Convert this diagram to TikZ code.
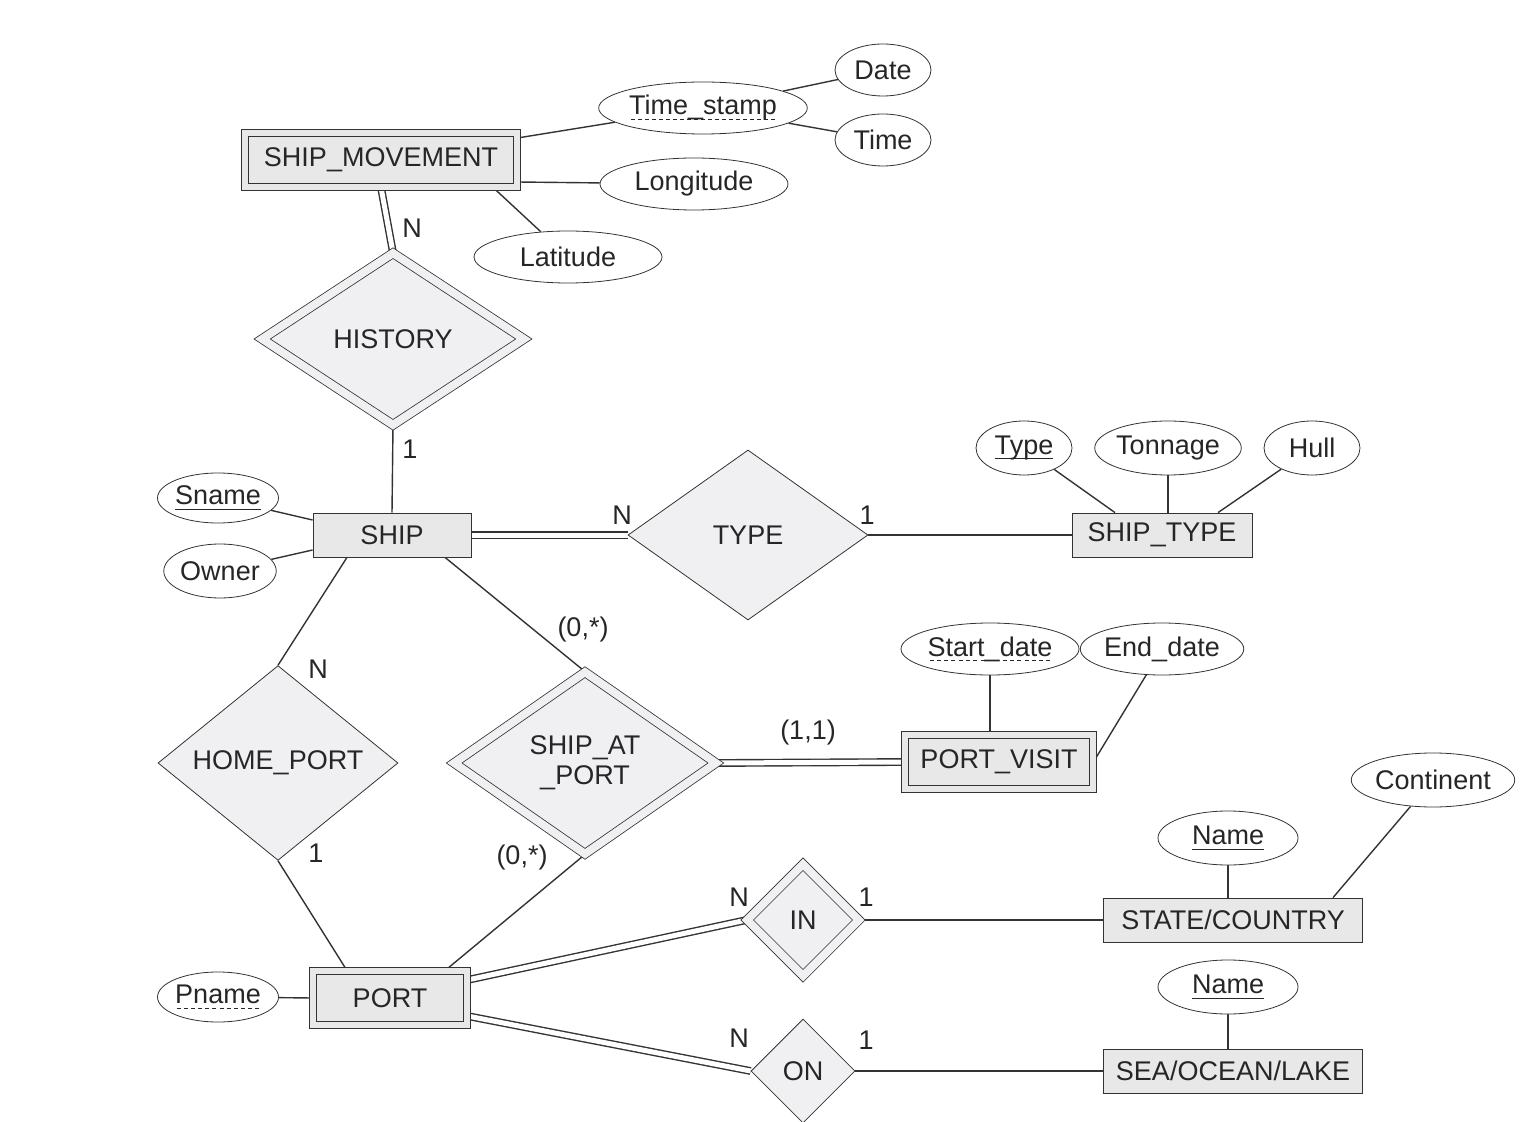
\documentclass[tikz,border=0pt]{standalone}
\usepackage{fontspec}
\setmainfont{Liberation Sans}
\usetikzlibrary{shapes.geometric,backgrounds}
\newcommand\myul[1]{\setbox0\hbox{#1}\rlap{\raisebox{-2.5pt}{\rule{\wd0}{0.5pt}}}\box0}
\newcommand\mydul[1]{\setbox0\hbox{#1}\rlap{\raisebox{-2.5pt}{\hbox to \wd0{\xleaders\hbox to 3.5pt{\hss\rule{2pt}{0.5pt}\hss}\hfill}}}\box0}
\definecolor{ln}{HTML}{333333}
\definecolor{ef}{HTML}{E8E8E8}
\definecolor{rf}{HTML}{F0F0F2}
\begin{document}
\begin{tikzpicture}[x=0.5pt,y=-0.5pt,font=\fontsize{13.5}{15}\selectfont,
  every node/.style={text=black!85},
  ent/.style={draw=ln,fill=ef,minimum height=22pt,inner sep=0pt},
  went/.style={ent,double=ef,double distance=3pt,minimum height=27pt},
  rel/.style={diamond,draw=ln,fill=rf,inner sep=0pt},
  wrel/.style={rel,double=rf,double distance=4pt},
  att/.style={ellipse,draw=ln,fill=white,inner sep=0pt,minimum height=26pt},
  e/.style={draw=ln,line width=0.7pt},
  de/.style={draw=ln,line width=0.7pt,double=white,double distance=2.5pt},
  lb/.style={inner sep=1pt}]
\useasboundingbox (0,0) rectangle (1530,1122);
% entities
\node[went,minimum width=136pt] (SM) at (381,160) {SHIP\_MOVEMENT};
\node[ent,minimum width=79pt] (SHIP) at (392,535) {SHIP};
\node[ent,minimum width=90pt] (ST) at (1162,535) {SHIP\_TYPE};
\node[went,minimum width=94pt] (PV) at (999,762) {PORT\_VISIT};
\node[ent,minimum width=129.5pt] (SC) at (1233,920) {STATE/COUNTRY};
\node[ent,minimum width=129.5pt] (SOL) at (1233,1071) {SEA/OCEAN/LAKE};
\node[went,minimum width=77pt] (PORT) at (390,998) {PORT};
% relationships
\node[wrel,minimum width=131pt,minimum height=86pt] (HIS) at (393,339) {HISTORY};
\node[rel,minimum width=120pt,minimum height=85pt] (TYPE) at (748,535) {TYPE};
\node[rel,minimum width=120pt,minimum height=85pt] (HP) at (278,763) {HOME\_PORT};
\node[wrel,minimum width=131pt,minimum height=91pt,align=center] (SAP) at (585,763) {SHIP\_AT\\\_PORT};
\node[wrel,minimum width=56pt,minimum height=56pt] (IN) at (803,920) {IN};
\node[rel,minimum width=52pt,minimum height=52pt] (ON) at (803,1071) {ON};
% attributes
\node[att,minimum width=103pt] (TS) at (703,108) {\mydul{Time\_stamp}};
\node[att,minimum width=48pt] (DATE) at (883,70) {Date};
\node[att,minimum width=48pt] (TIME) at (883,140) {Time};
\node[att,minimum width=94pt] (LON) at (694,184) {Longitude};
\node[att,minimum width=94pt] (LAT) at (568,257) {Latitude};
\node[att,minimum width=56pt,minimum height=25pt] (SN) at (218,498) {\myul{Sname}};
\node[att,minimum width=53pt,minimum height=27pt] (OW) at (220,571) {Owner};
\node[att,minimum width=48pt,minimum height=27pt] (TY) at (1024,448) {\myul{Type}};
\node[att,minimum width=70pt,minimum height=27pt] (TON) at (1168,448) {Tonnage};
\node[att,minimum width=48pt,minimum height=27pt] (HULL) at (1312,448) {Hull};
\node[att,minimum width=89pt] (SD) at (990,649) {\mydul{Start\_date}};
\node[att,minimum width=73pt] (ED) at (1162,649) {End\_date};
\node[att,minimum width=70pt,minimum height=27pt] (CON) at (1433,780) {Continent};
\node[att,minimum width=70pt,minimum height=27pt] (N1) at (1228,838) {\myul{Name}};
\node[att,minimum width=70pt,minimum height=27pt] (N2) at (1228,987) {\myul{Name}};
\node[att,minimum width=56pt,minimum height=25pt] (PN) at (218,997) {\mydul{Pname}};
% labels
\node[lb] (l1) at (412,228) {N};
\node[lb] (l2) at (410,449) {1};
\node[lb] (l3) at (622,515) {N};
\node[lb] (l4) at (867,515) {1};
\node[lb] (l5) at (583,630) {(0,*)};
\node[lb] (l6) at (318,669) {N};
\node[lb] (l7) at (316,853) {1};
\node[lb] (l8) at (522,858) {(0,*)};
\node[lb] (l9) at (808,733) {(1,1)};
\node[lb] (l10) at (739,897) {N};
\node[lb] (l11) at (866,897) {1};
\node[lb] (l12) at (739,1038) {N};
\node[lb] (l13) at (866,1040) {1};
\begin{scope}[on background layer]
\path[e] ([yshift=11pt]SM.east) -- (TS);
\path[e] ([yshift=-11pt]SM.east) -- (LON);
\path[e] ([xshift=56pt]SM.south) -- (LAT);
\path[e] (TS) -- (DATE);
\path[e] (TS) -- (TIME);
\path[de] (SM.south) -- (HIS.north);
\path[e] (HIS.south) -- (SHIP.north);
\path[e] ([yshift=7.5pt]SHIP.west) -- (SN);
\path[e] ([yshift=-7.5pt]SHIP.west) -- (OW);
\path[de] (SHIP.east) -- (TYPE.west);
\path[e] (TYPE.east) -- (ST.west);
\path[e] ([xshift=-23.5pt]ST.north) -- (TY);
\path[e] ([xshift=3pt]ST.north) -- (TON);
\path[e] ([xshift=28pt]ST.north) -- (HULL);
\path[e] ([xshift=-22.5pt]SHIP.south) -- (HP.north);
\path[e] (HP.south) -- ([xshift=-21.5pt]PORT.north);
\path[e] ([xshift=26.5pt]SHIP.south) -- (SAP.north);
\path[e] (SAP.south) -- ([xshift=27.5pt]PORT.north);
\path[de] (SAP.east) -- (PV.west);
\path[e] ([xshift=-4.5pt]PV.north) -- (SD);
\path[e] (PV.east) -- (ED);
\path[de] ([yshift=9pt]PORT.east) -- (IN.west);
\path[de] ([yshift=-9pt]PORT.east) -- (ON.west);
\path[e] (IN.east) -- (SC.west);
\path[e] (ON.east) -- (SOL.west);
\path[e] ([xshift=-2.5pt]SC.north) -- (N1);
\path[e] ([xshift=50pt]SC.north) -- (CON);
\path[e] ([xshift=-2.5pt]SOL.north) -- (N2);
\path[e] (PORT.west) -- (PN);
\end{scope}
\end{tikzpicture}
\end{document}
